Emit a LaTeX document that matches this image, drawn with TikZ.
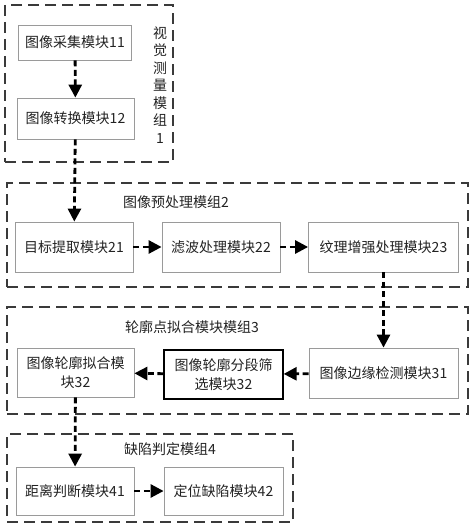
\documentclass[tikz,border=0pt]{standalone}
\usepackage{fontspec}
\setmainfont{Noto Sans CJK SC}
\usepackage{xcolor}
\usepackage{tikz}
\usetikzlibrary{arrows.meta}
\definecolor{MInk}{HTML}{222222}
\definecolor{MLine}{HTML}{9A9A9A}
\definecolor{MFrame}{HTML}{3A3A3A}

\begin{document}
\begin{tikzpicture}[x=1pt, y=-1pt,
  every node/.style={align=center, text=MInk, font=\fontsize{14}{19}\selectfont},
  modbox/.style={draw=MLine, line width=0.8pt, inner sep=1pt},
  keybox/.style={draw=black, line width=1.3pt, inner sep=1pt},
  groupbox/.style={draw=MFrame, line width=1.3pt, dash pattern=on 11pt off 6pt, inner sep=0pt},
  flow/.style={draw=black, line width=2.8pt, dash pattern=on 6pt off 3.5pt,
    -{Triangle[length=13pt, width=13pt]}}]
\useasboundingbox (0,0) rectangle (474,529);
% module groups
\foreach \id/\x/\y/\w/\h in {%
  g1/89/83.5/168/157,
  g2/237.5/235/461/104,
  g3/237.5/360.5/461/107,
  g4/150/478/286/88}{
  \node[groupbox, minimum width=\w pt, minimum height=\h pt] (\id) at (\x,\y) {};
}
\node[font=\fontsize{14}{17.5}\selectfont] (t1) at (160,85) {视\\觉\\测\\量\\模\\组\\1};
\node (t2) at (176,202) {图像预处理模组2};
\node (t3) at (192,327) {轮廓点拟合模块模组3};
\node (t4) at (170,449) {缺陷判定模组4};
% modules
\foreach \id/\x/\y/\w/\h/\txt in {%
  m11/75/42.5/113/35/{图像采集模块11},
  m12/75.5/118.5/117/41/{图像转换模块12},
  m21/74/247/118/50/{目标提取模块21},
  m22/221/247/118/50/{滤波处理模块22},
  m23/383.5/247/150/50/{纹理增强处理模块23},
  m32/75.5/372.5/117/49/{图像轮廓拟合模\\块32},
  m31/383.5/373/149/50/{图像边缘检测模块31},
  m41/75/491/118/48/{距离判断模块41},
  m42/223.5/491/119/48/{定位缺陷模块42}}{
  \node[modbox, minimum width=\w pt, minimum height=\h pt] (\id) at (\x,\y) {\txt};
}
\node[keybox, minimum width=119pt, minimum height=49pt] (m3s) at (223.5,374.5)
     {图像轮廓分段筛\\选模块32};
% flow arrows
\foreach \a/\b in {m11/m12, m12/m21, m21/m22, m22/m23, m23/m31,
                   m31/m3s, m3s/m32, m32/m41, m41/m42}{
  \draw[flow] (\a) -- (\b);
}
\end{tikzpicture}
\end{document}
